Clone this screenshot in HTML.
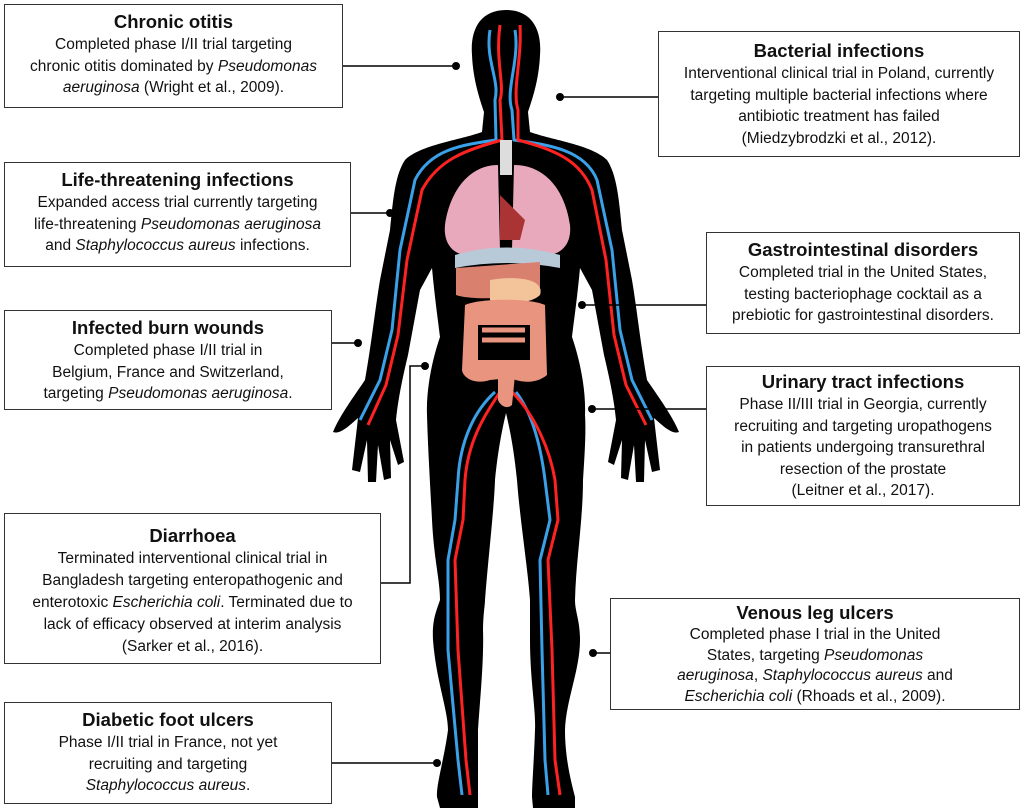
<!DOCTYPE html>
<html><head><meta charset="utf-8"><style>
html,body{margin:0;padding:0;background:#fff;}
body{width:1028px;height:810px;position:relative;overflow:hidden;font-family:"Liberation Sans",sans-serif;}
.b{position:absolute;border:1.5px solid #333;background:#fff;text-align:center;font-size:15.5px;line-height:21.5px;color:#111;box-sizing:border-box;padding-top:5px;white-space:nowrap;}
.b h{display:block;font-weight:bold;font-size:18.5px;line-height:24px;}
svg{position:absolute;left:0;top:0;}
</style></head><body>
<svg width="1028" height="810" viewBox="0 0 1028 810">
<path fill="#000" d="M506,10 C480,10 470,30 472,55 C473,80 480,100 484,112 L482,132 C460,140 420,145 405,160 C395,175 393,200 390,230 L380,280 C375,310 372,340 365,380 C355,395 340,415 333,432 C340,435 350,425 358,418 L352,470 L360,472 L367,440 L368,482 L376,482 L378,445 L384,480 L391,478 L390,440 L398,465 L404,462 L396,420 C398,400 402,380 408,355 L420,290 L432,268 C435,300 438,320 440,337 C432,360 426,390 427,415 C428,450 430,480 432,520 C434,560 440,580 440,600 C436,612 432,620 433,640 C436,680 448,710 448,730 C444,760 436,785 437,797 L440,808 L478,808 L478,797 C478,770 478,750 478,730 C480,700 484,660 483,630 C483,615 485,605 485,600 C488,560 494,510 495,480 C498,450 502,430 506,413 C510,430 514,450 517,480 C520,520 528,570 530,600 C530,610 530,620 530,640 C530,680 536,710 535,730 C534,760 532,785 532,797 L533,808 L575,808 L575,797 C572,785 565,760 565,730 C566,700 580,670 580,640 C580,620 575,612 575,600 C576,560 583,520 583,480 C585,450 586,430 585,415 C586,390 580,360 572,337 C574,320 577,300 580,268 L592,290 L604,355 C610,380 614,400 616,420 L608,462 L614,465 L622,440 L621,478 L628,480 L634,445 L636,482 L644,482 L645,440 L652,472 L660,470 L654,418 C662,425 672,435 679,432 C672,415 657,395 647,380 C640,340 637,310 632,280 L622,230 C619,200 617,175 607,160 C592,145 552,140 530,132 L528,112 C532,100 539,80 540,55 C542,30 532,10 506,10 Z"/>
<g fill="none" stroke-width="3">
<path stroke="#3aa0e8" d="M490,30 C485,60 500,80 495,100 L496,140 C460,145 430,150 415,180 L400,250 L392,330 L380,380 L360,420 M515,30 C520,60 505,90 512,110 L514,140 C550,145 585,150 597,180 L612,250 L620,330 L632,380 L652,420 M495,392 C475,410 460,440 458,480 L455,520 L448,560 L448,650 L458,760 L462,795 M516,392 C530,410 540,440 545,480 L550,520 L540,560 L542,650 L545,760 L548,795"/>
<path stroke="#f22" d="M500,25 C495,60 505,85 500,100 L502,140 C465,150 438,160 422,190 L407,260 L398,335 L386,385 L368,425 M520,25 C522,60 512,90 518,110 L518,140 C555,150 580,160 592,190 L606,260 L614,335 L626,385 L646,425 M500,392 C485,415 468,440 465,480 L463,520 L455,560 L458,650 L466,760 L470,795 M512,392 C535,415 550,450 555,480 L558,520 L548,560 L552,650 L555,760 L560,795"/>
</g>
<rect x="500" y="140" width="12" height="35" fill="#ddd"/>
<path fill="#e8a9bd" d="M498,165 C470,165 450,190 445,225 C443,245 455,258 475,255 L500,250 Z M514,165 C545,165 565,190 570,225 C572,245 560,258 538,255 L512,250 Z"/>
<path fill="#a33" d="M500,195 L525,220 L520,240 L500,240 Z"/>
<path fill="#b8c9d8" d="M455,255 Q506,240 560,255 L560,268 Q506,258 455,268 Z"/>
<path fill="#d9806f" d="M456,268 L540,262 L540,290 C510,300 470,300 456,295 Z"/>
<path fill="#f3c39a" d="M490,280 C520,275 545,280 540,295 C530,305 500,305 490,300 Z"/>
<path fill="#e9947f" d="M465,305 C480,298 530,298 545,305 L547,375 C535,385 520,382 510,378 L490,380 C475,385 463,378 462,370 Z"/>
<path fill="#000" d="M478,325 L530,325 L530,360 L478,360 Z"/>
<path d="M482,330 L525,330 M482,340 L525,340" stroke="#e9947f" stroke-width="5"/>
<path fill="#e9947f" d="M498,375 L515,375 L512,405 C506,410 500,405 498,400 Z"/>
<g stroke="#000" stroke-width="1.5" fill="none">
<path d="M343,66 L456,66 M560,97 L658,97 M351,213 L390,213 M582,305 L706,305 M332,343 L358,343 M425,366 L410,366 L410,583 L380,583 M592,409 L706,409 M593,653 L610,653 M332,763 L437,763"/>
</g>
<g fill="#000"><circle cx="456" cy="66" r="4"/><circle cx="560" cy="97" r="4"/><circle cx="390" cy="213" r="4"/><circle cx="582" cy="305" r="4"/><circle cx="358" cy="343" r="4"/><circle cx="425" cy="366" r="4"/><circle cx="592" cy="409" r="4"/><circle cx="593" cy="653" r="4"/><circle cx="437" cy="763" r="4"/></g>
</svg>
<div class="b" style="left:4px;top:4px;width:339px;height:104px;"><h>Chronic otitis</h>Completed phase I/II trial targeting<br>chronic otitis dominated by <i>Pseudomonas</i><br><i>aeruginosa</i> (Wright et al., 2009).</div>
<div class="b" style="left:658px;top:31px;width:362px;height:126px;padding-top:7px;"><h>Bacterial infections</h>Interventional clinical trial in Poland, currently<br>targeting multiple bacterial infections where<br>antibiotic treatment has failed<br>(Miedzybrodzki et al., 2012).</div>
<div class="b" style="left:4px;top:162px;width:347px;height:105px;"><h>Life-threatening infections</h>Expanded access trial currently targeting<br>life-threatening <i>Pseudomonas aeruginosa</i><br>and <i>Staphylococcus aureus</i> infections.</div>
<div class="b" style="left:706px;top:232px;width:314px;height:102px;"><h>Gastrointestinal disorders</h>Completed trial in the United States,<br>testing bacteriophage cocktail as a<br>prebiotic for gastrointestinal disorders.</div>
<div class="b" style="left:4px;top:310px;width:328px;height:100px;"><h>Infected burn wounds</h>Completed phase I/II trial in<br>Belgium, France and Switzerland,<br>targeting <i>Pseudomonas aeruginosa</i>.</div>
<div class="b" style="left:706px;top:366px;width:314px;height:140px;padding-top:3px;"><h>Urinary tract infections</h>Phase II/III trial in Georgia, currently<br>recruiting and targeting uropathogens<br>in patients undergoing transurethral<br>resection of the prostate<br>(Leitner et al., 2017).</div>
<div class="b" style="left:4px;top:513px;width:377px;height:151px;padding-top:10px;line-height:22px;"><h>Diarrhoea</h>Terminated interventional clinical trial in<br>Bangladesh targeting enteropathogenic and<br>enterotoxic <i>Escherichia coli</i>. Terminated due to<br>lack of efficacy observed at interim analysis<br>(Sarker et al., 2016).</div>
<div class="b" style="left:610px;top:598px;width:410px;height:112px;padding-top:2px;line-height:20.5px;"><h>Venous leg ulcers</h>Completed phase I trial in the United<br>States, targeting <i>Pseudomonas</i><br><i>aeruginosa</i>, <i>Staphylococcus aureus</i> and<br><i>Escherichia coli</i> (Rhoads et al., 2009).</div>
<div class="b" style="left:4px;top:702px;width:328px;height:102px;"><h>Diabetic foot ulcers</h>Phase I/II trial in France, not yet<br>recruiting and targeting<br><i>Staphylococcus aureus</i>.</div>
</body></html>
